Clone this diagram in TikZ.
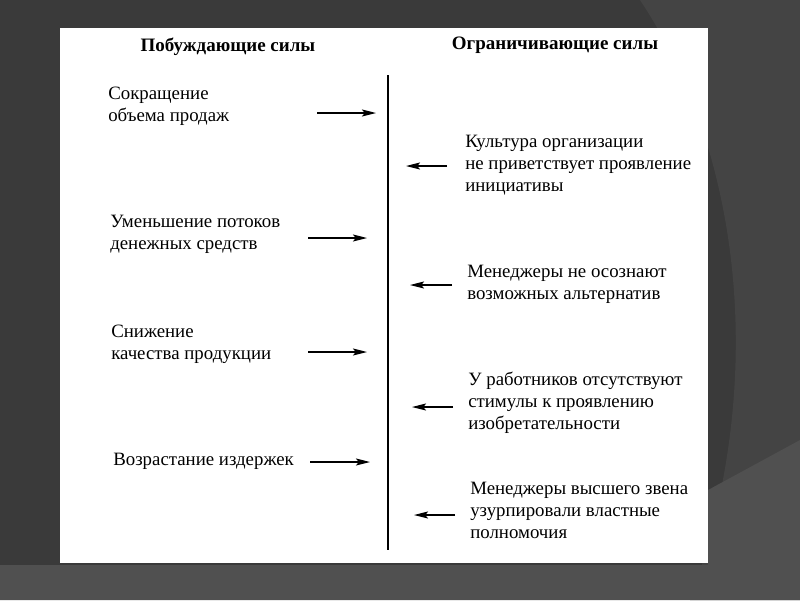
\documentclass[tikz,border=0pt]{standalone}
\usepackage{fontspec}
\setmainfont{Liberation Serif}
\usetikzlibrary{arrows.meta, positioning}
\definecolor{slidebg}{HTML}{3A3A3A}
\definecolor{slidearc}{HTML}{444444}
\definecolor{slidelow}{HTML}{505050}

\begin{document}
\begin{tikzpicture}[
    x=0.025cm, y=-0.025cm,
    header/.style={font=\fontsize{13.5}{15.5}\selectfont\bfseries, inner sep=0pt},
    force/.style={font=\fontsize{13.4}{15.6}\selectfont, align=left, anchor=north west, inner sep=0pt},
    push/.style={line width=1pt, -{Stealth[length=10pt, width=5pt, inset=2pt]}},
    axis/.style={line width=1.2pt}
]

% --- HINTERGRUND ---
\useasboundingbox (0,0) rectangle (800,600);
\fill[slidebg] (0,0) rectangle (800,600);
\fill[slidearc] (640,0) .. controls (740,150) and (770,380) .. (690,600) -- (800,600) -- (800,0) -- cycle;
\fill[slidelow] (0,565) -- (800,565) -- (800,440) -- (708,490) -- (708,565) -- (800,565) -- (800,600) -- (0,600) -- cycle;
\fill[white] (60,28) rectangle (708,563);

% --- KNOTEN ---
\node[header] (hdrL) at (228,47) {Побуждающие силы};
\node[header] (hdrR) at (555,45) {Ограничивающие силы};

% Achse in der Mitte
\coordinate (axtop) at (388,75);
\coordinate (axbot) at (388,550);

% linke Seite
\node[force] (drv0) at (108,87) {Сокращение\\объема продаж};
\node[force] (drv1) at (110,215) {Уменьшение потоков\\денежных средств};
\node[force] (drv2) at (111,325) {Снижение\\качества продукции};
\node[force] (drv3) at (113,453) {Возрастание издержек};

% rechte Seite
\node[force] (rst0) at (465,135) {Культура организации\\не приветствует проявление\\инициативы};
\node[force] (rst1) at (467,265) {Менеджеры не осознают\\возможных альтернатив};
\node[force] (rst2) at (468,372) {У работников отсутствуют\\стимулы к проявлению\\изобретательности};
\node[force] (rst3) at (470,482) {Менеджеры высшего звена\\узурпировали властные\\полномочия};

% Pfeilenden
\coordinate (drv0_s) at (317,113); \coordinate (drv0_e) at (376,113);
\coordinate (drv1_s) at (308,238); \coordinate (drv1_e) at (367,238);
\coordinate (drv2_s) at (308,352); \coordinate (drv2_e) at (367,352);
\coordinate (drv3_s) at (310,462); \coordinate (drv3_e) at (370,462);
\coordinate (rst0_s) at (447,166); \coordinate (rst0_e) at (406,166);
\coordinate (rst1_s) at (452,285); \coordinate (rst1_e) at (410,285);
\coordinate (rst2_s) at (453,407); \coordinate (rst2_e) at (412,407);
\coordinate (rst3_s) at (455,515); \coordinate (rst3_e) at (414,515);

% --- KANTEN ---
\draw[axis] (axtop) -- (axbot);
\foreach \i in {0,...,3} {
    \draw[push] (drv\i_s) -- (drv\i_e);
    \draw[push] (rst\i_s) -- (rst\i_e);
}

\end{tikzpicture}
\end{document}
